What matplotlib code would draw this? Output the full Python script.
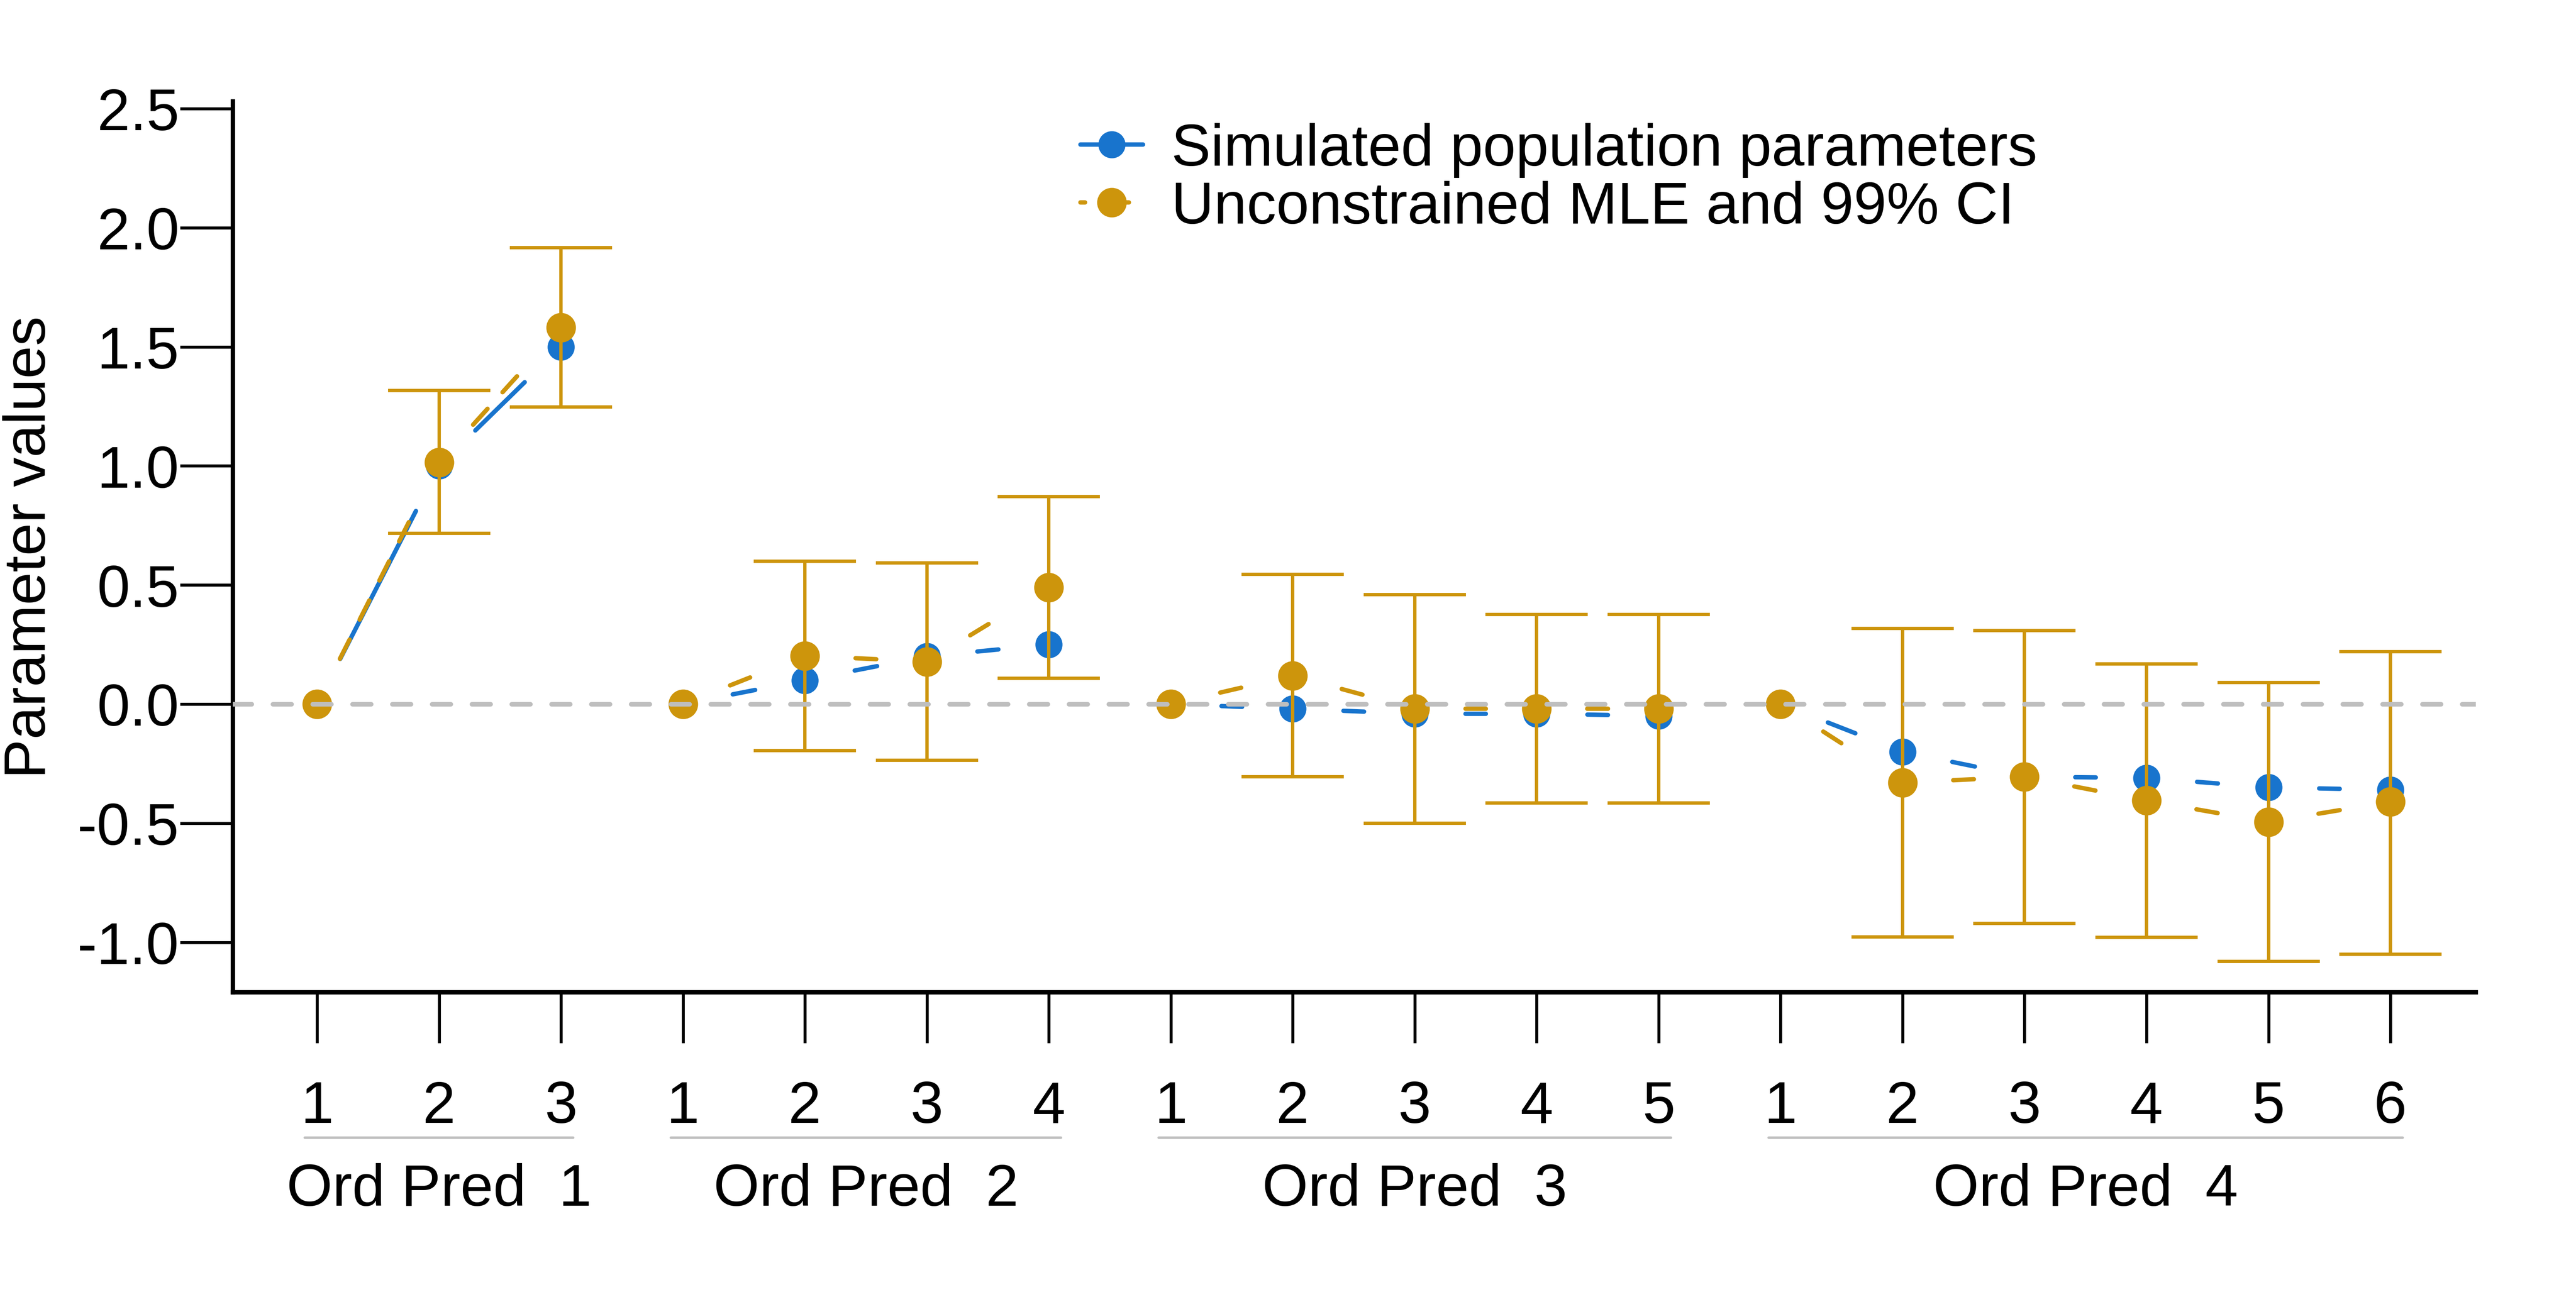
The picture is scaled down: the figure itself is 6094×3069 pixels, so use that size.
import numpy as np
import matplotlib
matplotlib.use("Agg")
import matplotlib.pyplot as plt
from matplotlib.lines import Line2D
import matplotlib.transforms as mtransforms

plt.rcParams['font.family'] = ['Liberation Sans', 'DejaVu Sans']
plt.rcParams['lines.scale_dashes'] = False

# ---------------- data ----------------
group_names = ["Ord Pred  1", "Ord Pred  2", "Ord Pred  3", "Ord Pred  4"]
sim_g1 = [0.0, 1.0, 1.5]
sim_g2 = [0.0, 0.10, 0.20, 0.25]
sim_g3 = [0.0, -0.02, -0.04, -0.04, -0.05]
sim_g4 = [0.0, -0.20, -0.305, -0.31, -0.35, -0.36]

mle_g1 = [0.0, 1.015, 1.58]
mle_g2 = [0.0, 0.203, 0.178, 0.49]
mle_g3 = [0.0, 0.119, -0.02, -0.02, -0.02]
mle_g4 = [0.0, -0.33, -0.305, -0.405, -0.495, -0.41]

lo_g1 = [np.nan, 0.716, 1.247]
lo_g2 = [np.nan, -0.195, -0.236, 0.109]
lo_g3 = [np.nan, -0.306, -0.501, -0.415, -0.415]
lo_g4 = [np.nan, -0.977, -0.92, -0.98, -1.08, -1.05]

hi_g1 = [np.nan, 1.317, 1.916]
hi_g2 = [np.nan, 0.600, 0.593, 0.872]
hi_g3 = [np.nan, 0.544, 0.459, 0.377, 0.377]
hi_g4 = [np.nan, 0.318, 0.308, 0.168, 0.09, 0.22]

y_ticks = [-1.0, -0.5, 0.0, 0.5, 1.0, 1.5, 2.0, 2.5]
legend_labels = ["Simulated population parameters", "Unconstrained MLE and 99% CI"]
ylabel = "Parameter values"

sims = [sim_g1, sim_g2, sim_g3, sim_g4]
mles = [mle_g1, mle_g2, mle_g3, mle_g4]
los = [lo_g1, lo_g2, lo_g3, lo_g4]
his = [hi_g1, hi_g2, hi_g3, hi_g4]

# ---------------- style ----------------
BLUE = "#1874CD"
GOLD = "#CD950C"
GRAY = "#BEBEBE"
FS = 33.5
DPI = 300
W, H = 6094, 3070

fig = plt.figure(figsize=(W / DPI, H / DPI), dpi=DPI)
ax = fig.add_axes([551 / W, 1 - 2349 / H, (5857 - 551) / W, (2349 - 241) / H])

n_total = sum(len(s) for s in sims)
ax.set_xlim(-0.69, n_total - 1 + 0.70)
ax.set_ylim(-1.21, 2.53)

GAP_PX = 120.0
LW = 2.5


def gapped(xs, ys, **kw):
    pts = ax.transData.transform(np.column_stack([xs, ys]))
    inv = ax.transData.inverted()
    for i in range(len(pts) - 1):
        p, q = pts[i], pts[i + 1]
        d = q - p
        L = np.hypot(*d)
        if L <= 2 * GAP_PX:
            continue
        u = d / L
        seg = inv.transform(np.vstack([p + u * GAP_PX, q - u * GAP_PX]))
        ax.plot(seg[:, 0], seg[:, 1], **kw)


start = 0
xticks, xticklabels = [], []
blend = mtransforms.blended_transform_factory(ax.transData, ax.transAxes)
for gi in range(len(sims)):
    n = len(sims[gi])
    xs = np.arange(start, start + n)
    s = np.array(sims[gi])
    m = np.array(mles[gi])
    lo = np.array(los[gi])
    hi = np.array(his[gi])

    # simulated (blue)
    gapped(xs, s, color=BLUE, lw=LW, solid_capstyle='round', zorder=2)
    ax.plot(xs, s, 'o', color=BLUE, ms=15.4, mew=0, zorder=3)

    # error bars
    ok = ~np.isnan(lo)
    ax.errorbar(xs[ok], m[ok], yerr=[m[ok] - lo[ok], hi[ok] - m[ok]], fmt='none',
                ecolor=GOLD, elinewidth=1.9, capsize=29, capthick=1.9, zorder=4)

    # MLE (gold)
    gapped(xs, m, color=GOLD, lw=LW, linestyle=(0, (12.2, 12.7)),
           dash_capstyle='round', zorder=4)
    ax.plot(xs, m, 'o', color=GOLD, ms=16.8, mew=0, zorder=5)

    # group annotation
    ax.add_line(Line2D([xs[0] - 0.1, xs[-1] + 0.1], [-0.163, -0.163], transform=blend,
                       color=GRAY, lw=1.4, solid_capstyle='round', clip_on=False))
    ax.text((xs[0] + xs[-1]) / 2, -0.239, group_names[gi], transform=blend,
            ha='center', va='baseline', fontsize=FS)

    xticks.extend(xs)
    xticklabels.extend([str(k + 1) for k in range(n)])
    start += n

ax.axhline(0, color=GRAY, lw=2.6, linestyle=(0, (10.6, 12.0)),
           dash_capstyle='round', zorder=10)

ax.set_xticks(xticks)
ax.set_xticklabels(xticklabels)
ax.set_yticks(y_ticks)
ax.set_yticklabels([f"{v:.1f}" for v in y_ticks])
ax.tick_params(axis='x', direction='out', length=28.8, width=1.7, pad=21, labelsize=FS)
ax.tick_params(axis='y', direction='out', length=30, width=1.7, pad=0.5, labelsize=FS)

for side in ['top', 'right']:
    ax.spines[side].set_visible(False)
for side in ['left', 'bottom']:
    ax.spines[side].set_linewidth(2.5)

fig.text(71 / W, 1 - 1295 / H, ylabel, rotation=90, ha='center', va='center', fontsize=FS)

handles = [
    Line2D([], [], color=BLUE, lw=LW, marker='o', ms=15.4, mew=0, solid_capstyle='round'),
    Line2D([], [], color=GOLD, lw=LW, marker='o', ms=16.8, mew=0,
           linestyle=(9.6, (12.2, 12.7)), dash_capstyle='round'),
]
ax.legend(handles, legend_labels, loc='upper left', bbox_to_anchor=(2556 / W, 1 - 291 / H),
          bbox_transform=fig.transFigure, frameon=False, borderpad=0, borderaxespad=0,
          handlelength=1.06, handletextpad=0.48, labelspacing=0.05, fontsize=FS)

fig.savefig("out.png", dpi=DPI)
